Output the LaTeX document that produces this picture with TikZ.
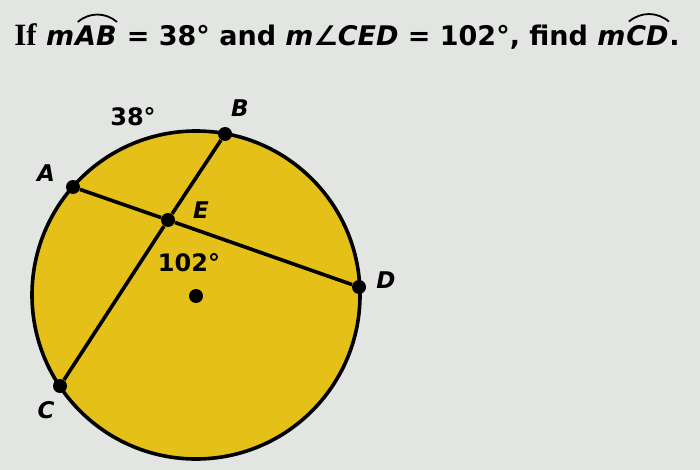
\documentclass[tikz,border=0pt]{standalone}
\usepackage{fontspec}
\setmainfont{DejaVu Sans}
\newfontfamily\serifbf{Liberation Serif}
\usetikzlibrary{positioning}
\definecolor{paper}{RGB}{226,229,226}
\definecolor{disc}{RGB}{228,192,24}

\begin{document}
\begin{tikzpicture}[x=0.5pt,y=-0.5pt,
    dot/.style={circle,fill=black,inner sep=0pt,minimum size=7pt},
    lbl/.style={font=\fontsize{11.5}{13}\selectfont\bfseries\itshape},
    deg/.style={font=\fontsize{12}{14}\selectfont\bfseries},
    ttl/.style={font=\fontsize{13.5}{16}\selectfont\bfseries,inner sep=0pt,anchor=base west},
    arcmark/.style={line width=0.9pt,bend left=40}]
    \fill[paper] (0,0) rectangle (700,470);
    \useasboundingbox (0,0) rectangle (700,470);
    % question
    \node[ttl] (t1) at (14,46) {{\serifbf\fontsize{15.5}{16}\selectfont If}\ \textit{m}};
    \node[ttl] (ab) at (t1.base east) {\textit{AB}};
    \node[ttl] (t2) at (ab.base east) {\ = 38° and \textit{m}∠\textit{CED} = 102°, find \textit{m}};
    \node[ttl] (cd) at (t2.base east) {\textit{CD}};
    \node[ttl] (t3) at (cd.base east) {.};
    \draw[arcmark] ([xshift=1.5pt,yshift=2pt]ab.north west) to ([xshift=-0pt,yshift=2pt]ab.north east);
    \draw[arcmark] ([xshift=1.5pt,yshift=2pt]cd.north west) to ([xshift=-0pt,yshift=2pt]cd.north east);
    % circle and chords
    \draw[fill=disc,line width=1.8pt] (196,295) circle [radius=164];
    \node[dot] (A) at (73,187) {};
    \node[dot] (B) at (225,134) {};
    \node[dot] (C) at (60,386) {};
    \node[dot] (D) at (359,287) {};
    \node[dot] (E) at (168,220) {};
    \node[dot] (O) at (196,296) {};
    \draw[line width=1.8pt] (A) -- (E) -- (D);
    \draw[line width=1.8pt] (B) -- (E) -- (C);
    % labels
    \node[lbl] at (240,108) {B};
    \node[lbl] at (46,173) {A};
    \node[lbl] at (201,210) {E};
    \node[lbl] at (386,280) {D};
    \node[lbl] at (46,410) {C};
    \node[deg] at (133,117) {38°};
    \node[deg] at (189,263) {102°};
\end{tikzpicture}
\end{document}
